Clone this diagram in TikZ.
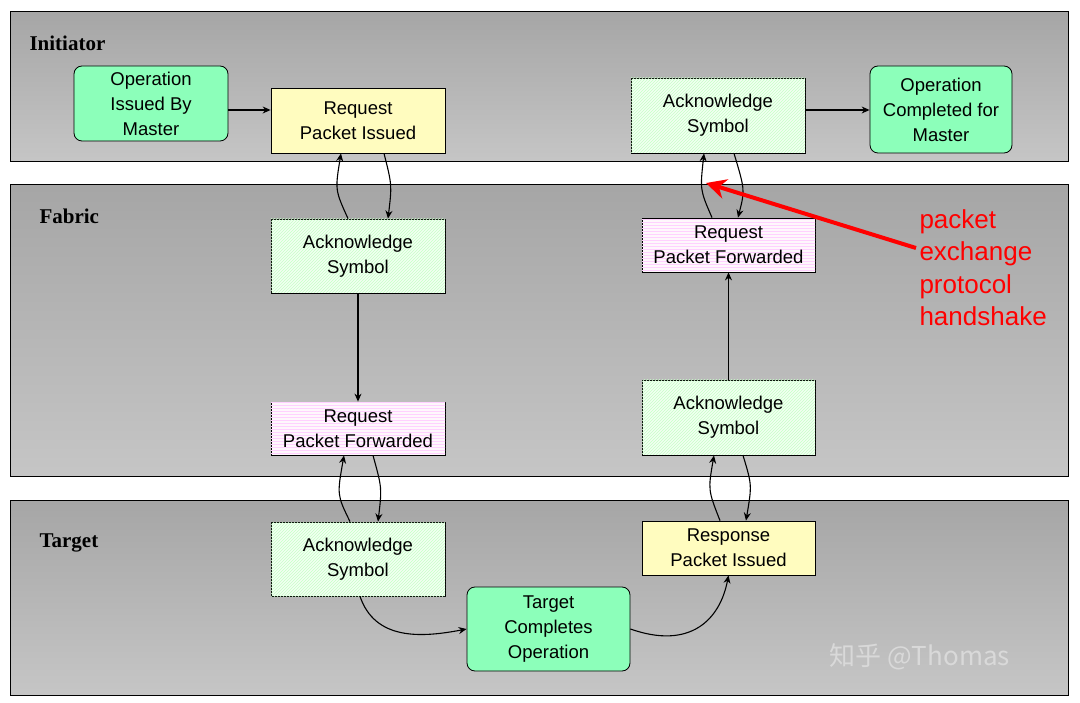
\documentclass[tikz,border=0pt]{standalone}
\usepackage{fontspec}
\setmainfont{Liberation Sans}
\newfontfamily\ttl{Liberation Serif}
\newfontfamily\cjk{Noto Sans CJK SC}
\usetikzlibrary{patterns,arrows.meta}
\begin{document}
\begin{tikzpicture}[x=1pt,y=-1pt,
 panel/.style={draw=black,line width=1pt,top color=gray!70,bottom color=gray!45},
 ptitle/.style={anchor=west,font=\ttl\bfseries\fontsize{21}{24}\selectfont},
 box/.style={draw=black,line width=0.8pt,align=center,inner sep=0pt,font=\fontsize{18.5}{25}\selectfont},
 ack/.style={box,fill=green!5,postaction={pattern=north east lines,pattern color=green!22}},
 req/.style={box,fill=yellow!25},
 fwd/.style={box,fill=magenta!3,postaction={pattern=horizontal lines,pattern color=magenta!18}},
 op/.style={box,fill=green!60!cyan!45,rounded corners=8pt},
 arr/.style={-{Stealth[length=8pt,width=7pt]},line width=1.1pt}]
\useasboundingbox (0,0) rectangle (1080,703);
\fill[white] (0,0) rectangle (1080,703);
\draw[panel] (10,12) rectangle (1068,162);
\draw[panel] (10,185) rectangle (1068,477);
\draw[panel] (10,500) rectangle (1068,695);
\node[ptitle] (ti) at (26,43) {Initiator};
\node[ptitle] (tf) at (36,216) {Fabric};
\node[ptitle] (tt) at (36,543) {Target};
\node[op,minimum width=154,minimum height=75] (op1) at (151,103.5) {Operation\\Issued By\\Master};
\node[req,minimum width=174,minimum height=65] (req1) at (358,120.5) {Request\\Packet Issued};
\node[ack,minimum width=174,minimum height=75] (ack1) at (718,115.5) {Acknowledge\\Symbol};
\node[op,minimum width=142,minimum height=87] (op2) at (941,109.5) {Operation\\Completed for\\Master};
\node[ack,minimum width=174,minimum height=74] (ackF1) at (358,256) {Acknowledge\\Symbol};
\node[fwd,minimum width=174,minimum height=53] (reqF1) at (358,428.5) {Request\\Packet Forwarded};
\node[fwd,minimum width=173,minimum height=54] (reqF2) at (728.5,245) {Request\\Packet Forwarded};
\node[ack,minimum width=173,minimum height=75] (ackF2) at (728.5,417.5) {Acknowledge\\Symbol};
\node[ack,minimum width=174,minimum height=74] (ackT) at (358,559) {Acknowledge\\Symbol};
\node[req,minimum width=173,minimum height=54] (resp) at (728.5,548) {Response\\Packet Issued};
\node[op,minimum width=163,minimum height=84] (tgt) at (548.5,629) {Target\\Completes\\Operation};
\draw[arr] ([yshift=-6.5]op1.east) -- ([yshift=10.5]req1.west);
\draw[arr] ([yshift=5.5]ack1.east) -- ([yshift=-0.5]op2.west);
\draw[arr] ([xshift=-10]ackF1.north) .. controls (335,190) .. ([xshift=-17]req1.south);
\draw[arr] ([xshift=26]req1.south) .. controls (392,185) .. ([xshift=30]ackF1.north);
\draw[arr] (ackF1.south) -- (reqF1.north);
\draw[arr] ([xshift=-8]ackT.north) .. controls (337,495) .. ([xshift=-14]reqF1.south);
\draw[arr] ([xshift=15]reqF1.south) .. controls (382,488) .. ([xshift=20]ackT.north);
\draw[arr] ([xshift=2]ackT.south) .. controls (375,640) and (420,638) .. (tgt.west);
\draw[arr] (tgt.east) .. controls (690,650) and (720,620) .. (resp.south);
\draw[arr] ([xshift=-8.5]resp.north) .. controls (708,490) .. ([xshift=-14.5]ackF2.south);
\draw[arr] ([xshift=14.5]ackF2.south) .. controls (752,485) .. ([xshift=17.5]resp.north);
\draw[arr] (ackF2.north) -- (reqF2.south);
\draw[arr] ([xshift=-16.5]reqF2.north) .. controls (700,190) .. ([xshift=-14]ack1.south);
\draw[arr] ([xshift=16]ack1.south) .. controls (745,190) .. ([xshift=9.5]reqF2.north);
\node[anchor=north west,align=left,text=red,font=\fontsize{26}{32.5}\selectfont] (lab) at (916,206) {packet\\exchange\\protocol\\handshake};
\coordinate (tip) at (706,183);
\draw[red,line width=4pt,-{Stealth[length=20pt,width=20pt]}] (lab.west|-0,248) -- (tip);
\node[anchor=west,text=gray!30,font=\cjk\fontsize{26}{30}\selectfont] (wm) at (826,657) {知乎 @Thomas};
\end{tikzpicture}
\end{document}
